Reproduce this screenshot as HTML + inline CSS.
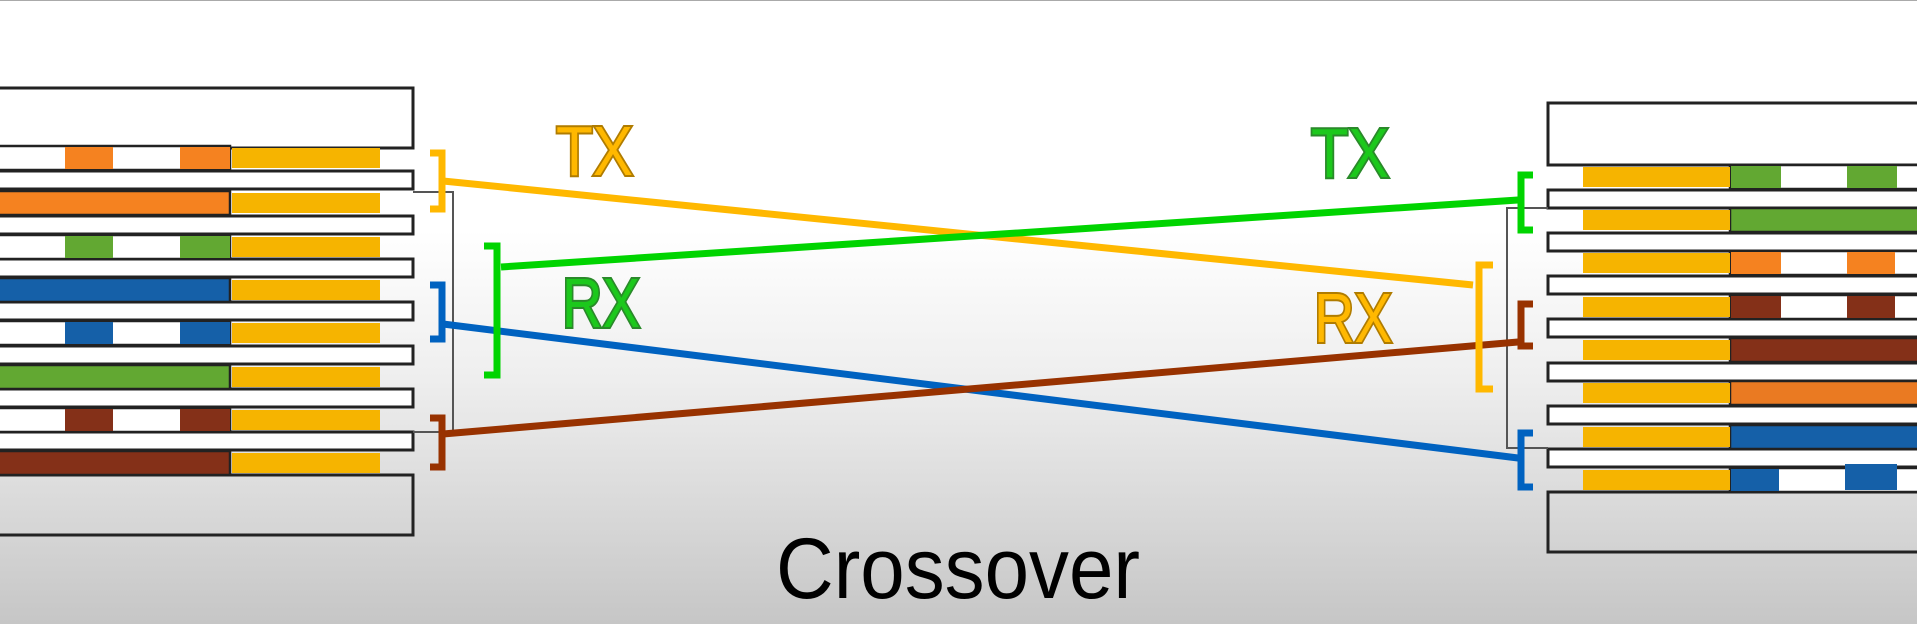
<!DOCTYPE html>
<html><head><meta charset="utf-8"><style>
html,body{margin:0;padding:0;}
body{width:1917px;height:624px;overflow:hidden;background:linear-gradient(#fff 0px,#fff 230px,#eeeeee 380px,#c6c6c6 624px);}
svg{position:absolute;left:0;top:0;}
</style></head><body>
<svg width="1917" height="624" viewBox="0 0 1917 624" xmlns="http://www.w3.org/2000/svg">
<line x1="0" y1="0.5" x2="1917" y2="0.5" stroke="#aaa" stroke-width="1"/>
<!-- LEFT CONNECTOR -->
<g stroke="#222" stroke-width="3">
<path d="M0 88 H413 V148 H0" fill="#fff"/>
<path d="M0 475 H413 V535 H0" fill="none"/>
<rect x="-5" y="171" width="418" height="18" fill="#fff"/>
<rect x="-5" y="216" width="418" height="18" fill="#fff"/>
<rect x="-5" y="259" width="418" height="18" fill="#fff"/>
<rect x="-5" y="302" width="418" height="18" fill="#fff"/>
<rect x="-5" y="346" width="418" height="18" fill="#fff"/>
<rect x="-5" y="389" width="418" height="18" fill="#fff"/>
<rect x="-5" y="432" width="418" height="18" fill="#fff"/>
</g>
<g stroke="#222" stroke-width="2.5">
<rect x="-2" y="146" width="232" height="24" fill="#fff"/>
<rect x="-2" y="191" width="232" height="24" fill="#f58220"/>
<rect x="-2" y="235" width="232" height="24" fill="#fff"/>
<rect x="-2" y="278" width="232" height="24" fill="#1560a8"/>
<rect x="-2" y="321" width="232" height="24" fill="#fff"/>
<rect x="-2" y="365" width="232" height="24" fill="#62a832"/>
<rect x="-2" y="408" width="232" height="24" fill="#fff"/>
<rect x="-2" y="451" width="232" height="24" fill="#843018"/>
</g>
<g>
<rect x="65" y="147" width="48" height="22" fill="#f58220"/><rect x="180" y="147" width="50" height="22" fill="#f58220"/>
<rect x="65" y="236" width="48" height="22" fill="#62a832"/><rect x="180" y="236" width="50" height="22" fill="#62a832"/>
<rect x="65" y="322" width="48" height="22" fill="#1560a8"/><rect x="180" y="322" width="50" height="22" fill="#1560a8"/>
<rect x="65" y="409" width="48" height="22" fill="#843018"/><rect x="180" y="409" width="50" height="22" fill="#843018"/>
</g>
<g fill="#f6b400">
<rect x="232" y="148" width="148" height="20"/><rect x="232" y="193" width="148" height="20"/>
<rect x="232" y="237" width="148" height="20"/><rect x="232" y="280" width="148" height="20"/>
<rect x="232" y="323" width="148" height="20"/><rect x="232" y="367" width="148" height="20"/>
<rect x="232" y="410" width="148" height="20"/><rect x="232" y="453" width="148" height="20"/>
</g>
<path d="M413 192 H453 V432 H413" fill="none" stroke="#555" stroke-width="2"/>
<!-- RIGHT CONNECTOR -->
<g stroke="#222" stroke-width="3">
<path d="M1917 103 H1548 V165 H1917" fill="#fff"/>
<path d="M1917 492 H1548 V552 H1917" fill="none"/>
<rect x="1548" y="190" width="380" height="18" fill="#fff"/>
<rect x="1548" y="233" width="380" height="18" fill="#fff"/>
<rect x="1548" y="276" width="380" height="18" fill="#fff"/>
<rect x="1548" y="319" width="380" height="18" fill="#fff"/>
<rect x="1548" y="363" width="380" height="18" fill="#fff"/>
<rect x="1548" y="406" width="380" height="18" fill="#fff"/>
<rect x="1548" y="449" width="380" height="18" fill="#fff"/>
</g>
<g stroke="#222" stroke-width="2.5">
<rect x="1730" y="165" width="200" height="24" fill="#fff"/>
<rect x="1730" y="208" width="200" height="24" fill="#62a832"/>
<rect x="1730" y="251" width="200" height="24" fill="#fff"/>
<rect x="1730" y="295" width="200" height="24" fill="#fff"/>
<rect x="1730" y="338" width="200" height="24" fill="#843018"/>
<rect x="1730" y="381" width="200" height="24" fill="#ea7a22"/>
<rect x="1730" y="425" width="200" height="24" fill="#1560a8"/>
<rect x="1730" y="468" width="200" height="24" fill="#fff"/>
</g>
<g>
<rect x="1731" y="166" width="50" height="22" fill="#62a832"/><rect x="1847" y="166" width="50" height="22" fill="#62a832"/>
<rect x="1731" y="252" width="50" height="22" fill="#f58220"/><rect x="1847" y="252" width="48" height="22" fill="#f58220"/>
<rect x="1731" y="296" width="50" height="22" fill="#843018"/><rect x="1847" y="296" width="48" height="22" fill="#843018"/>
<rect x="1731" y="469" width="48" height="22" fill="#1560a8"/><rect x="1845" y="464" width="52" height="26" fill="#1560a8"/>
</g>
<g fill="#f6b400">
<rect x="1583" y="167" width="147" height="20"/><rect x="1583" y="210" width="147" height="20"/>
<rect x="1583" y="253" width="147" height="20"/><rect x="1583" y="297" width="147" height="20"/>
<rect x="1583" y="340" width="147" height="20"/><rect x="1583" y="383" width="147" height="20"/>
<rect x="1583" y="427" width="147" height="20"/><rect x="1583" y="470" width="147" height="20"/>
</g>
<path d="M1548 208 H1507 V448 H1548" fill="none" stroke="#555" stroke-width="2"/>
<!-- CROSS LINES -->
<g stroke-width="7" fill="none" stroke-linecap="butt">
<line x1="443" y1="181" x2="1473" y2="285" stroke="#ffb800"/>
<line x1="501" y1="267" x2="1518" y2="200" stroke="#00d400"/>
<line x1="443" y1="324" x2="1518" y2="458" stroke="#0062c0"/>
<line x1="443" y1="434" x2="1518" y2="342" stroke="#983200"/>
</g>
<!-- BRACKETS -->
<g stroke-width="7" fill="none">
<path d="M430 153 H442 V209 H430" stroke="#ffb800"/>
<path d="M430 285 H442 V339 H430" stroke="#0062c0"/>
<path d="M430 418 H442 V467 H430" stroke="#983200"/>
<path d="M484 246 H497 V375 H484" stroke="#00d400"/>
<path d="M1533 175 H1521 V230 H1533" stroke="#00d400"/>
<path d="M1493 265 H1479 V389 H1493" stroke="#ffb800"/>
<path d="M1533 304 H1521 V346 H1533" stroke="#983200"/>
<path d="M1533 433 H1521 V487 H1533" stroke="#0062c0"/>
</g>
<!-- LABELS -->
<g font-family="Liberation Sans, sans-serif" font-size="70" stroke-width="4" paint-order="stroke">
<text x="556" y="175" textLength="77" lengthAdjust="spacingAndGlyphs" fill="#ffb800" stroke="#b07c00">TX</text>
<text x="562" y="327" textLength="78" lengthAdjust="spacingAndGlyphs" fill="#1cc81c" stroke="#2a8a2a">RX</text>
<text x="1311" y="177" textLength="78" lengthAdjust="spacingAndGlyphs" fill="#1cc81c" stroke="#2a8a2a">TX</text>
<text x="1314" y="342" textLength="78" lengthAdjust="spacingAndGlyphs" fill="#ffb800" stroke="#b07c00">RX</text>
</g>
<text x="776" y="598" font-family="Liberation Sans, sans-serif" font-size="86" textLength="364" lengthAdjust="spacingAndGlyphs" fill="#000">Crossover</text>
</svg>
</body></html>
